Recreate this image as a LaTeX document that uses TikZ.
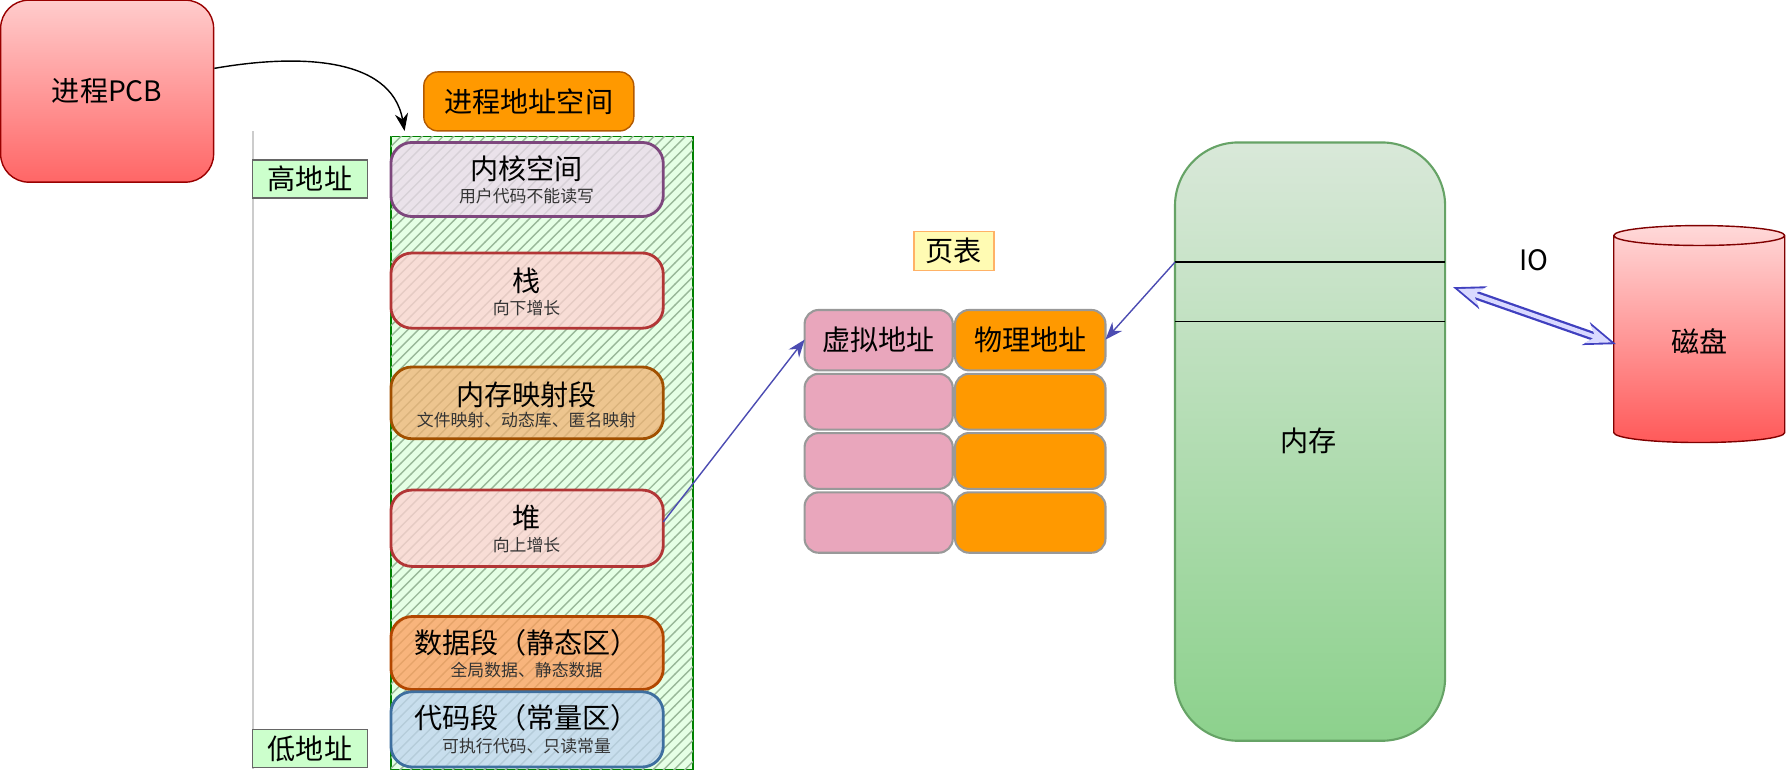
\documentclass[tikz,border=0pt]{standalone}
\usepackage{fontspec}
\setmainfont{Noto Sans CJK SC}
\usetikzlibrary{patterns,shapes.geometric,arrows.meta}
\colorlet{kernc}{violet!60}
\colorlet{stackc}{red!70}
\colorlet{mmapc}{orange!90!black}
\colorlet{datac}{orange!80!red}
\colorlet{codec}{cyan!60!blue}
\begin{document}
\begin{tikzpicture}[x=0.0114cm,y=-0.0114cm]
\tikzset{
  seg/.style={draw=#1!70!black, fill=#1!25, fill opacity=0.75, rounded corners=6pt, line width=0.8pt},
  big/.style={font=\fontsize{8}{9}\selectfont},
  small/.style={font=\fontsize{4.8}{5}\selectfont, text=black!80},
  lbl/.style={font=\fontsize{8}{9}\selectfont},
  cell/.style={draw=black!40, rounded corners=4pt, line width=0.6pt},
  fleche/.style={-{Stealth[length=5pt]}, draw=blue!40!gray}
};
\useasboundingbox (0,0) rectangle (1568,675);

% processus
\node[lbl, draw=red!60!black, rounded corners=8pt, top color=red!20, bottom color=red!60, minimum width=2.13cm, minimum height=1.82cm] (pcb) at (94,80) {进程PCB};
\node[lbl, draw=orange!70!black, fill=orange!80!yellow, rounded corners=4pt, minimum width=2.1cm, minimum height=0.59cm] (titre) at (464,89) {进程地址空间};
\coordinate (cible) at (355,115);
\draw[-{Stealth[length=5pt]}] (pcb.east) ++(0,-20) to[out=10,in=100] (cible);

% espace d'adressage
\draw[black!20] (222,115) -- (222,675);
\draw[draw=green!50!black, fill=green!10] (343,120) rectangle (608,675);
\fill[pattern=north east lines, pattern color=green!30!black!40] (343,120) rectangle (608,675);
\node[lbl, draw=black!60, fill=green!20, minimum width=1.15cm, minimum height=0.38cm, inner sep=1pt] (haut) at (272,157) {高地址};
\node[lbl, draw=black!60, fill=green!20, minimum width=1.15cm, minimum height=0.38cm, inner sep=1pt] (bas) at (272,657) {低地址};

\draw[seg=kernc] (343,125) rectangle (582,190);
\node[big] at (462,148) {内核空间}; \node[small] at (462,172) {用户代码不能读写};
\draw[seg=stackc] (343,222) rectangle (582,288);
\node[big] at (462,246) {栈}; \node[small] at (462,270) {向下增长};
\draw[seg=mmapc, fill=mmapc!55] (343,322) rectangle (582,385);
\node[big] (mmap) at (462,346) {内存映射段}; \node[small] at (462,369) {文件映射、动态库、匿名映射};
\draw[seg=stackc] (343,430) rectangle (582,497);
\node[big] at (462,454) {堆}; \node[small] at (462,478) {向上增长};
\coordinate (tas) at (582,458);
\draw[seg=datac, fill=datac!65] (343,541) rectangle (582,605);
\node[big] at (462,564) {数据段（静态区）}; \node[small] at (462,588) {全局数据、静态数据};
\draw[seg=codec] (343,607) rectangle (582,673);
\node[big] at (462,630) {代码段（常量区）}; \node[small] at (462,655) {可执行代码、只读常量};

% table des pages
\node[lbl, draw=orange!60, fill=yellow!30, minimum width=0.8cm, minimum height=0.39cm, inner sep=1pt] (pt) at (837,220) {页表};
\draw[cell, fill=purple!35] (706,272) rectangle (836,325);
\node[lbl] (virt) at (771,298) {虚拟地址};
\draw[cell, fill=orange!80!yellow] (838,272) rectangle (970,325);
\node[lbl] (phys) at (904,298) {物理地址};
\foreach \ya/\yb in {328/377, 380/429, 432/485} {
  \draw[cell, fill=purple!35] (706,\ya) rectangle (836,\yb);
  \draw[cell, fill=orange!80!yellow] (838,\ya) rectangle (970,\yb);
}
\coordinate (va) at (706,298);
\coordinate (pa) at (970,298);
\draw[fleche] (tas) -- (va);

% memoire
\draw[draw=green!40!black!60, rounded corners=18pt, top color=green!40!black!15!white, bottom color=green!60!black!45!white, line width=0.6pt] (1031,125) rectangle (1268,650);
\draw (1031,230) -- (1268,230);
\draw (1031,282) -- (1268,282);
\node[lbl] (mem) at (1148,387) {内存};
\coordinate (ligne) at (1031,230);
\draw[fleche] (ligne) -- (pa);

% disque
\node[lbl, cylinder, shape border rotate=90, aspect=0.25, draw=red!50!black, top color=red!15, bottom color=red!65, minimum width=1.71cm, minimum height=2.17cm] (disque) at (1491,300) {磁盘};
\node[lbl] (io) at (1346,228) {IO};
\coordinate (m1) at (1275,252);
\coordinate (d1) at (1418,302);
\draw[{Stealth[length=9pt]}-{Stealth[length=9pt]}, draw=blue!50!gray, line width=2.5pt] (m1) -- (d1);
\draw[{Stealth[length=7pt]}-{Stealth[length=7pt]}, draw=blue!15, line width=1.2pt, shorten <=1.5pt, shorten >=1.5pt] (m1) -- (d1);
\end{tikzpicture}
\end{document}
